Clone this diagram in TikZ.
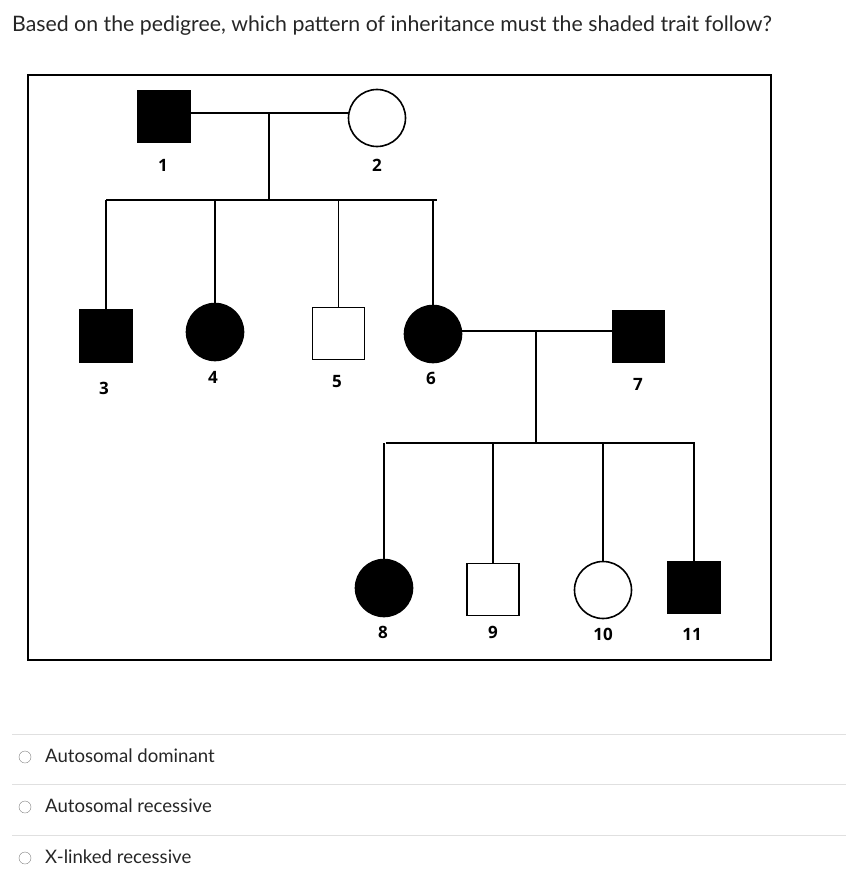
\documentclass[tikz,border=0pt]{standalone}
\usepackage{fontspec}
\setmainfont{Lato}
\newfontfamily\lbl{Open Sans}
\begin{document}
\begin{tikzpicture}[x=1pt,y=-1pt,
  ln/.style={line width=1.6pt},
  msq/.style={draw,line width=1.6pt,minimum size=52pt,inner sep=0,outer sep=0},
  fem/.style={draw,line width=1.6pt,circle,minimum size=57pt,inner sep=0,outer sep=0},
  lab/.style={font=\lbl\bfseries\fontsize{17}{17}\selectfont,inner sep=0},
  opt/.style={font=\fontsize{18.6}{18.6}\selectfont,anchor=west,inner sep=0,text=black!85},
  radio/.style={draw=gray,circle,minimum size=12pt,inner sep=0},
  sep/.style={draw=black!12,line width=0.8pt}]
\useasboundingbox (0,0) rectangle (846,880);
\node[anchor=west,inner sep=0,font=\fontsize{21.3}{22}\selectfont,text=black!85] (q) at (12,26) {Based on the pedigree, which pattern of inheritance must the shaded trait follow?};
\draw[line width=2.5pt] (28,75) rectangle (771,660);
\node[msq,fill=black] (n1) at (164,116.5) {};
\node[fem] (n2) at (377,118) {};
\node[msq,fill=black] (n3) at (106,336) {};
\node[fem,fill=black] (n4) at (215,332) {};
\node[msq] (n5) at (338.5,333.5) {};
\node[fem,fill=black] (n6) at (433,334) {};
\node[msq,fill=black] (n7) at (638.5,336.5) {};
\node[fem,fill=black] (n8) at (384,588) {};
\node[msq] (n9) at (493,589.5) {};
\node[fem] (n10) at (603,590) {};
\node[msq,fill=black] (n11) at (694,587.5) {};
\foreach \n/\x/\y in {1/163/165,2/377/165,3/104/388,4/213/377,5/337/382,6/431/378,7/638/384,8/383/632,9/493/632,10/603/634,11/692/634}
  \node[lab] (l\n) at (\x,\y) {\n};
\coordinate (m1) at (269,113);
\coordinate (s1) at (269,200);
\draw[ln] (n1.east |- m1) -- (m1) -- (n2.west |- m1);
\draw[ln] (m1) -- (s1);
\draw[ln] (106,200) -- (437,200);
\draw[ln] (n3.north) -- (n3.north |- s1);
\draw[ln] (n4.north) -- (n4.north |- s1);
\draw[ln] (n5.north) -- (n5.north |- s1);
\draw[ln] (n6.north) -- (n6.north |- s1);
\coordinate (m2) at (536,331);
\coordinate (s2) at (536,443);
\draw[ln] (n6.east |- m2) -- (m2) -- (n7.west |- m2);
\draw[ln] (m2) -- (s2);
\draw[ln] (386,443) -- (695,443);
\foreach \k in {8,9,10,11} \draw[ln] (n\k.north) -- (n\k.north |- s2);
\draw[sep] (12,734) -- (846,734);
\draw[sep] (12,784) -- (846,784);
\draw[sep] (12,835) -- (846,835);
\node[radio] (r1) at (25,757) {};
\node[radio] (r2) at (25,807) {};
\node[radio] (r3) at (25,858) {};
\node[opt] (o1) at (45,756) {Autosomal dominant};
\node[opt] (o2) at (45,806) {Autosomal recessive};
\node[opt] (o3) at (45,857) {X-linked recessive};
\end{tikzpicture}
\end{document}
